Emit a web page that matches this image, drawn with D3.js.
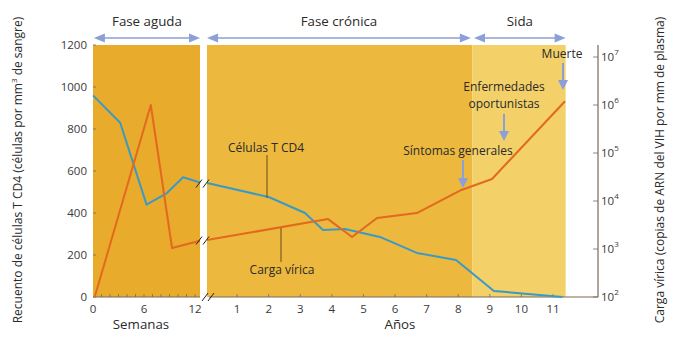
<!DOCTYPE html>
<html>
<head>
<meta charset="utf-8">
<script src="https://cdn.jsdelivr.net/npm/d3@7.9.0/dist/d3.min.js"></script>
<style>
  body { margin: 0; background: #fff; }
  svg { display: block; font-family: "Open Sans", sans-serif; }
  .lbl { font-size: 12px; fill: #2a2a2a; }
  .ttl { font-size: 13.3px; fill: #2a2a2a; }
  .tick { font-size: 11.5px; fill: #3a3a3a; }
</style>
</head>
<body>
<svg id="chart" width="680" height="343"></svg>
<script>
// CD4 count (cells/mm3) during acute phase, x in weeks
const cd4Weeks = [[0, 960], [3.2, 830], [6.3, 440], [8.7, 495], [10.6, 570], [12.6, 545]];
// CD4 count during chronic phase + AIDS, x in years
const cd4Years = [[0.05, 543], [2, 476], [3.15, 400], [3.72, 319], [4.41, 324], [5.52, 286],
                  [6.69, 210], [7.93, 176], [9.13, 29], [11.3, 0]];
// viral load (copies/ml), weeks
const vlWeeks = [[0.2, 100], [6.8, 1000000], [9.3, 1050], [12.6, 1480]];
// viral load, years
const vlYears = [[0.05, 1540], [3.88, 4200], [4.64, 1780], [5.43, 4440], [6.69, 5620],
                 [8.1, 17000], [9.07, 28800], [11.38, 1200000]];

const leftTicks = [0, 200, 400, 600, 800, 1000, 1200];
const weekTicks = [0, 6, 12];
const yearTicks = [1, 2, 3, 4, 5, 6, 7, 8, 9, 10, 11];
const logTicks = [2, 3, 4, 5, 6, 7];

const phases = [
  { name: "Fase aguda", from: "w", a: 0.1, b: 12.6 },
  { name: "Fase crónica", from: "y", a: 0.05, b: 8.4 },
  { name: "Sida", from: "y", a: 8.5, b: 11.4 }
];

const svg = d3.select("#chart");

const xW = d3.scaleLinear().domain([0, 12]).range([93, 195]);
const xY = d3.scaleLinear().domain([0, 11]).range([205.5, 553]);
const yL = d3.scaleLinear().domain([0, 1200]).range([297, 45]);
const yR = d3.scaleLog().domain([100, 1e7]).range([297, 57]);

const blue = "#3b9ac4";
const orange = "#e2691d";
const arrowCol = "#8b9fd8";

// backgrounds
svg.append("rect").attr("x", xW(0)).attr("y", yL(1200))
  .attr("width", 200 - xW(0)).attr("height", yL(0) - yL(1200)).attr("fill", "#e8ab2c");
svg.append("rect").attr("x", 207).attr("y", yL(1200))
  .attr("width", xY(8.45) - 207).attr("height", yL(0) - yL(1200)).attr("fill", "#ecb83e");
svg.append("rect").attr("x", xY(8.45)).attr("y", yL(1200))
  .attr("width", xY(11.4) - xY(8.45)).attr("height", yL(0) - yL(1200)).attr("fill", "#f3d068");

// x axis line
const axisCol = "#7a6a5a";
svg.append("line").attr("x1", xW(0)).attr("x2", 200).attr("y1", 297).attr("y2", 297)
  .attr("stroke", axisCol).attr("stroke-width", 1.2);
svg.append("line").attr("x1", 209).attr("x2", 598).attr("y1", 297).attr("y2", 297)
  .attr("stroke", axisCol).attr("stroke-width", 1.2);

// minor ticks on week axis
svg.selectAll(".wt").data(d3.range(1, 13)).join("line")
  .attr("x1", d => xW(d)).attr("x2", d => xW(d))
  .attr("y1", 297).attr("y2", 294).attr("stroke", axisCol).attr("stroke-width", 0.8);
svg.selectAll(".yt").data(yearTicks).join("line")
  .attr("x1", d => xY(d)).attr("x2", d => xY(d))
  .attr("y1", 297).attr("y2", 294).attr("stroke", axisCol).attr("stroke-width", 0.8);
// left ticks
svg.selectAll(".lt").data(leftTicks).join("line")
  .attr("x1", 93).attr("x2", 96).attr("y1", d => yL(d)).attr("y2", d => yL(d))
  .attr("stroke", axisCol).attr("stroke-width", 0.8);

svg.selectAll(".ltl").data(leftTicks).join("text").attr("class", "tick")
  .attr("x", 87).attr("y", d => yL(d) + 4).attr("text-anchor", "end").text(d => d);
svg.selectAll(".wtl").data(weekTicks).join("text").attr("class", "tick")
  .attr("x", d => xW(d)).attr("y", 313).attr("text-anchor", "middle").text(d => d);
svg.selectAll(".ytl").data(yearTicks).join("text").attr("class", "tick")
  .attr("x", d => xY(d)).attr("y", 313).attr("text-anchor", "middle").text(d => d);

// right log axis
svg.append("line").attr("x1", 598).attr("x2", 598).attr("y1", 45).attr("y2", 297)
  .attr("stroke", axisCol).attr("stroke-width", 1.2);
const rt = svg.selectAll(".rt").data(logTicks).join("g")
  .attr("transform", d => `translate(598,${yR(Math.pow(10, d))})`);
rt.append("line").attr("x1", -5).attr("x2", 0).attr("stroke", axisCol).attr("stroke-width", 0.8);
const rtxt = rt.append("text").attr("class", "tick").attr("x", 3).attr("y", 4);
rtxt.append("tspan").text("10");
rtxt.append("tspan").attr("dy", -6).style("font-size", "8px").text(d => d);

// lines
const lineW = d3.line().x(d => xW(d[0])).y(d => yL(d[1]));
const lineY = d3.line().x(d => xY(d[0])).y(d => yL(d[1]));
const lineWv = d3.line().x(d => xW(d[0])).y(d => yR(d[1]));
const lineYv = d3.line().x(d => xY(d[0])).y(d => yR(d[1]));

[[lineW, cd4Weeks, blue], [lineY, cd4Years, blue], [lineWv, vlWeeks, orange], [lineYv, vlYears, orange]]
  .forEach(([gen, data, col]) => {
    svg.append("path").datum(data).attr("d", gen).attr("fill", "none")
      .attr("stroke", col).attr("stroke-width", 2).attr("stroke-linejoin", "round");
  });

// white gap between panels
svg.append("rect").attr("x", 200.5).attr("y", 40).attr("width", 6).attr("height", 260).attr("fill", "#fff");

// break marks
function breakMark(y) {
  [199, 206].forEach(x => {
    svg.append("line").attr("x1", x - 3).attr("x2", x + 3).attr("y1", y + 4).attr("y2", y - 4)
      .attr("stroke", "#222").attr("stroke-width", 1);
  });
}
breakMark(yL(545) + 1);
breakMark(yR(1500));
[205, 211].forEach(x => {
  svg.append("line").attr("x1", x - 3).attr("x2", x + 3).attr("y1", 301).attr("y2", 293)
    .attr("stroke", "#222").attr("stroke-width", 1);
});

// phase arrows
const arrowY = 38;
phases.forEach(p => {
  const sc = p.from === "w" ? xW : xY;
  const x1 = sc(p.a), x2 = p.from === "w" ? 200 : sc(p.b);
  svg.append("line").attr("x1", x1 + 6).attr("x2", x2 - 6).attr("y1", arrowY).attr("y2", arrowY)
    .attr("stroke", arrowCol).attr("stroke-width", 1.3);
  svg.append("path").attr("d", `M${x1},${arrowY}l11,-4.5v9z`).attr("fill", arrowCol);
  svg.append("path").attr("d", `M${x2},${arrowY}l-11,-4.5v9z`).attr("fill", arrowCol);
  svg.append("text").attr("class", "ttl").attr("x", (x1 + x2) / 2).attr("y", 26)
    .attr("text-anchor", "middle").text(p.name);
});

// annotations
function downArrow(x, y1, y2) {
  svg.append("line").attr("x1", x).attr("x2", x).attr("y1", y1).attr("y2", y2 - 8)
    .attr("stroke", arrowCol).attr("stroke-width", 2);
  svg.append("path").attr("d", `M${x},${y2}l-5,-10h10z`).attr("fill", arrowCol);
}
svg.append("text").attr("class", "lbl").attr("x", 266).attr("y", 152).attr("text-anchor", "middle").text("Células T CD4");
svg.append("line").attr("x1", 267).attr("x2", 267).attr("y1", 155).attr("y2", yL(476) + 1)
  .attr("stroke", "#6b4a1a").attr("stroke-width", 1);
svg.append("text").attr("class", "lbl").attr("x", 282).attr("y", 274).attr("text-anchor", "middle").text("Carga vírica");
svg.append("line").attr("x1", 281).attr("x2", 281).attr("y1", 262).attr("y2", 228)
  .attr("stroke", "#6b4a1a").attr("stroke-width", 1);

svg.append("text").attr("class", "lbl").attr("x", 458).attr("y", 155).attr("text-anchor", "middle").text("Síntomas generales");
downArrow(463, 160, 188);
svg.append("text").attr("class", "lbl").attr("x", 504).attr("y", 91).attr("text-anchor", "middle").text("Enfermedades");
svg.append("text").attr("class", "lbl").attr("x", 504).attr("y", 108).attr("text-anchor", "middle").text("oportunistas");
downArrow(504, 114, 141);
svg.append("text").attr("class", "lbl").attr("x", 562).attr("y", 58).attr("text-anchor", "middle").text("Muerte");
downArrow(563, 63, 90);

// axis titles
svg.append("text").attr("class", "ttl").attr("x", 141).attr("y", 329).attr("text-anchor", "middle").text("Semanas");
svg.append("text").attr("class", "ttl").attr("x", 400).attr("y", 329).attr("text-anchor", "middle").text("Años");

const lt = svg.append("text").attr("class", "lbl").attr("text-anchor", "middle")
  .attr("transform", "translate(22,170) rotate(-90)");
lt.append("tspan").text("Recuento de células T CD4 (células por mm");
lt.append("tspan").attr("dy", -5).style("font-size", "8px").text("3");
lt.append("tspan").attr("dy", 5).text(" de sangre)");

svg.append("text").attr("class", "lbl").attr("text-anchor", "middle")
  .attr("transform", "translate(664,170) rotate(-90)")
  .text("Carga vírica (copias de ARN del VIH por mm de plasma)");
</script>
</body>
</html>
